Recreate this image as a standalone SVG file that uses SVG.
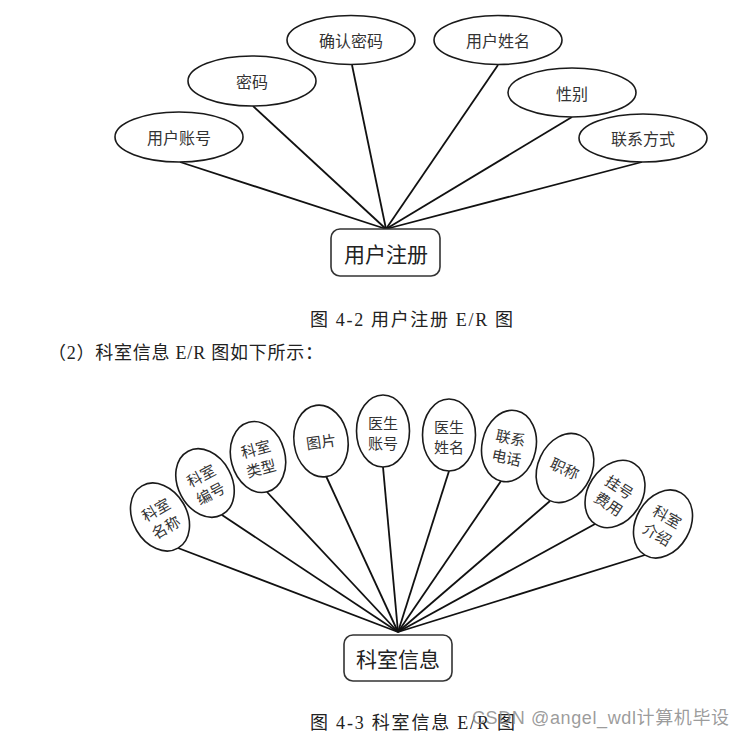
<svg xmlns="http://www.w3.org/2000/svg" width="746" height="738" viewBox="0 0 746 738">
<style>
.attr{fill:#fff;stroke:#1a1a1a;stroke-width:1.6}
.ent{fill:#fff;stroke:#333;stroke-width:1.6}
.t{font-family:"Noto Sans CJK SC","Liberation Sans",sans-serif;font-size:15px;fill:#333;text-anchor:middle;dominant-baseline:central}
.tt{font-family:"Noto Sans CJK SC","Liberation Sans",sans-serif;font-size:16px;fill:#333;text-anchor:middle;dominant-baseline:central}
.te{font-family:"Noto Sans CJK SC","Liberation Sans",sans-serif;font-size:21px;fill:#222;text-anchor:middle;dominant-baseline:central}
.cap{font-family:"Liberation Serif","Noto Sans CJK SC",serif;font-size:18px;fill:#222}
.wm{font-family:"Liberation Sans","Noto Sans CJK SC",sans-serif;font-size:18px;fill:#8a8a8a;fill-opacity:0.85}
.ln{stroke:#111;stroke-width:1.8;fill:none}
</style>
<rect width="746" height="738" fill="#fff"/>
<g id="connectors">
<line class="ln" x1="180" y1="162" x2="386" y2="229"/>
<line class="ln" x1="253" y1="106" x2="386" y2="229"/>
<line class="ln" x1="352" y1="65" x2="386" y2="229"/>
<line class="ln" x1="498" y1="65" x2="386" y2="229"/>
<line class="ln" x1="572" y1="117" x2="386" y2="229"/>
<line class="ln" x1="642" y1="162" x2="386" y2="229"/>
<line class="ln" x1="178" y1="548" x2="398" y2="632"/>
<line class="ln" x1="222" y1="515" x2="398" y2="632"/>
<line class="ln" x1="267" y1="492" x2="398" y2="632"/>
<line class="ln" x1="326" y1="476" x2="398" y2="632"/>
<line class="ln" x1="383" y1="467" x2="398" y2="632"/>
<line class="ln" x1="449" y1="471" x2="398" y2="632"/>
<line class="ln" x1="501" y1="481" x2="398" y2="632"/>
<line class="ln" x1="550" y1="501" x2="398" y2="632"/>
<line class="ln" x1="595" y1="524" x2="398" y2="632"/>
<line class="ln" x1="645" y1="555" x2="398" y2="632"/>
</g>
<g id="user-account"><ellipse class="attr" cx="179" cy="137" rx="64" ry="25"/><text class="tt" x="179" y="137">用户账号</text></g>
<g id="password"><ellipse class="attr" cx="252" cy="81" rx="64" ry="25"/><text class="tt" x="252" y="81">密码</text></g>
<g id="confirm-password"><ellipse class="attr" cx="351" cy="40" rx="64" ry="24.5"/><text class="tt" x="351" y="40">确认密码</text></g>
<g id="user-name"><ellipse class="attr" cx="498" cy="40" rx="64" ry="24.5"/><text class="tt" x="498" y="40">用户姓名</text></g>
<g id="gender"><ellipse class="attr" cx="572" cy="92.5" rx="64" ry="24.5"/><text class="tt" x="572" y="92.5">性别</text></g>
<g id="contact"><ellipse class="attr" cx="643" cy="138" rx="64" ry="24"/><text class="tt" x="643" y="138">联系方式</text></g>
<g id="user-register"><rect class="ent" x="331" y="229" width="109" height="47" rx="9"/><text class="te" x="386" y="253">用户注册</text></g>
<text class="cap" x="310" y="326" textLength="203" lengthAdjust="spacing">图 4-2 用户注册 E/R 图</text>
<text class="cap" x="48" y="359" textLength="275" lengthAdjust="spacing">（2）科室信息 E/R 图如下所示：</text>
<g id="dept-name" transform="translate(160,517) rotate(-30)"><ellipse class="attr" rx="27" ry="36"/><text class="t" x="0" y="-9">科室</text><text class="t" x="0" y="11">名称</text></g>
<g id="dept-no" transform="translate(205,483) rotate(-28)"><ellipse class="attr" rx="27" ry="36"/><text class="t" x="0" y="-9">科室</text><text class="t" x="0" y="11">编号</text></g>
<g id="dept-type" transform="translate(258,457) rotate(-15)"><ellipse class="attr" rx="27" ry="36"/><text class="t" x="0" y="-9">科室</text><text class="t" x="0" y="11">类型</text></g>
<g id="picture" transform="translate(321,441) rotate(-8)"><ellipse class="attr" rx="27" ry="36"/><text class="t" x="0" y="0">图片</text></g>
<g id="doctor-account" transform="translate(383,431)"><ellipse class="attr" rx="26.5" ry="36"/><text class="t" x="0" y="-9">医生</text><text class="t" x="0" y="11">账号</text></g>
<g id="doctor-name" transform="translate(449,435)"><ellipse class="attr" rx="26.5" ry="36"/><text class="t" x="0" y="-9">医生</text><text class="t" x="0" y="11">姓名</text></g>
<g id="phone" transform="translate(509,446) rotate(12)"><ellipse class="attr" rx="27" ry="36"/><text class="t" x="0" y="-9">联系</text><text class="t" x="0" y="11">电话</text></g>
<g id="title" transform="translate(565,468) rotate(25)"><ellipse class="attr" rx="27" ry="36"/><text class="t" x="0" y="0">职称</text></g>
<g id="fee" transform="translate(615,494) rotate(33)"><ellipse class="attr" rx="27" ry="36"/><text class="t" x="0" y="-9">挂号</text><text class="t" x="0" y="11">费用</text></g>
<g id="dept-intro" transform="translate(663,524) rotate(30)"><ellipse class="attr" rx="27" ry="36"/><text class="t" x="0" y="-9">科室</text><text class="t" x="0" y="11">介绍</text></g>
<g id="dept-info"><rect class="ent" x="344" y="635" width="108" height="46" rx="9"/><text class="te" x="398" y="658">科室信息</text></g>
<text class="cap" x="310" y="729" textLength="205" lengthAdjust="spacing">图 4-3 科室信息 E/R 图</text>
<text class="wm" x="472" y="724" textLength="257" lengthAdjust="spacing">CSDN @angel_wdl计算机毕设</text>
</svg>
